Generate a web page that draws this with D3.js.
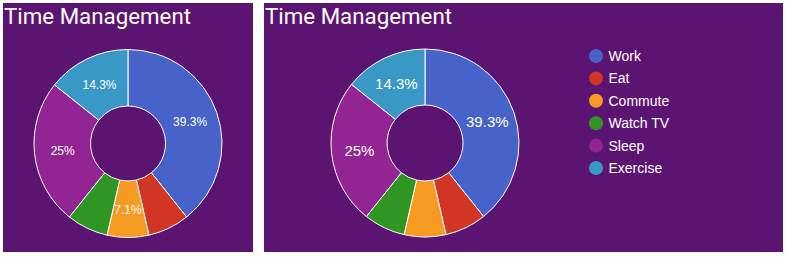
<!DOCTYPE html>
<html><head><meta charset="utf-8">
<script src="https://cdn.jsdelivr.net/npm/d3@7"></script>
<style>
body{margin:0;background:#fff;width:793px;height:258px;overflow:hidden;}
svg{position:absolute;}
</style></head>
<body>
<script>
const title = "Time Management";
const categories = ["Work","Eat","Commute","Watch TV","Sleep","Exercise"];
const hours = [11,2,2,2,7,4];
const colors = ["#4763c9","#d03623","#f79a22","#2f9624","#922593","#3a98c6"];
const leftLabelsShown = ["Work","Commute","Sleep","Exercise"];
const rightLabelsShown = ["Work","Sleep","Exercise"];
const bg = "#5b1472";

const total = d3.sum(hours);
const fmt = v => (+(v/total*100).toFixed(1)) + "%";
const pie = d3.pie().sort(null).value(d=>d.v);
const data = categories.map((c,i)=>({c, v:hours[i], col:colors[i]}));
const color = d3.scaleOrdinal().domain(categories).range(colors);

function panel(opts){
  const svg = d3.select("body").append("svg")
    .style("left", opts.x+"px").style("top", opts.y+"px")
    .attr("width", opts.w).attr("height", opts.h);
  svg.append("rect").attr("width", opts.w).attr("height", opts.h).attr("fill", bg);
  svg.append("text").attr("x",1).attr("y",21)
    .attr("fill","#fff").style("font-family","Roboto, Arial, sans-serif")
    .style("font-size","22.3px").text(title);
  const g = svg.append("g").attr("transform",`translate(${opts.cx},${opts.cy})`);
  const arc = d3.arc().innerRadius(opts.ri).outerRadius(opts.ro);
  const arcs = pie(data);
  g.selectAll("path").data(arcs).join("path")
    .attr("d", arc).attr("fill", d=>color(d.data.c))
    .attr("stroke","#fff").attr("stroke-width",1);
  const la = d3.arc().innerRadius((opts.ri+opts.ro)/2).outerRadius((opts.ri+opts.ro)/2);
  g.selectAll("text").data(arcs.filter(d=>opts.shown.includes(d.data.c))).join("text")
    .attr("transform", d=>`translate(${la.centroid(d)})`)
    .attr("text-anchor","middle").attr("dy","0.36em")
    .attr("fill","#fff").style("font-family","Arial, 'Liberation Sans', sans-serif")
    .style("font-size", opts.fs+"px").text(d=>fmt(d.data.v));
  return svg;
}

panel({x:3,y:3,w:250,h:249,cx:125,cy:140.5,ri:37.5,ro:94,fs:12,shown:leftLabelsShown});
const r = panel({x:264,y:3,w:519,h:249,cx:161,cy:140,ri:38,ro:94,fs:15,shown:rightLabelsShown});

const legY = d3.scalePoint().domain(categories).range([53,165]);
const lg = r.append("g");
const items = lg.selectAll("g").data(categories).join("g")
  .attr("transform", d=>`translate(332,${legY(d)})`);
items.append("circle").attr("r",7).attr("fill", d=>color(d));
items.append("text").attr("x",12.5).attr("dy","0.36em").attr("fill","#fff")
  .style("font-family","Arial, 'Liberation Sans', sans-serif").style("font-size","14px").text(d=>d);
</script>
</body></html>
